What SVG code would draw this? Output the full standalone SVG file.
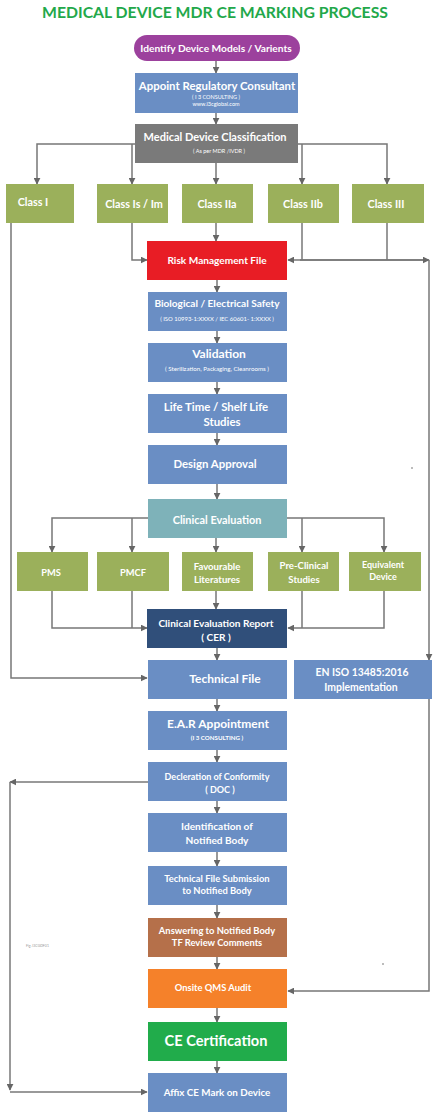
<svg xmlns="http://www.w3.org/2000/svg" width="438" height="1114" viewBox="0 0 438 1114">
<style>
text{font-family:Lato,"Open Sans","Liberation Sans",sans-serif;font-weight:bold;fill:#fff;text-anchor:middle}
.t{font-size:11.4px}
.s{font-size:5.5px;font-weight:normal}
.c{stroke:#777;stroke-width:1.5;fill:none}
.blue{fill:#6a8ec4}
.grn{fill:#9bb05b}
</style>
<defs>
<marker id="ah" viewBox="0 0 10 10" refX="9" refY="5" markerWidth="7" markerHeight="7" markerUnits="userSpaceOnUse" orient="auto">
<path d="M0,0 L10,5 L0,10 z" fill="#666"/>
</marker>
</defs>
<rect width="438" height="1114" fill="#fff"/>
<text x="215" y="18" style="font-size:16px;fill:#22a84a" textLength="346" lengthAdjust="spacingAndGlyphs">MEDICAL DEVICE MDR CE MARKING PROCESS</text>

<g id="connectors" class="c" marker-end="url(#ah)">
<path d="M216,61 V73"/>
<path d="M216,113 V124"/>
<path d="M135,144 H37 V184"/>
<path d="M132,144 V184"/>
<path d="M216,163 V184"/>
<path d="M298,144 H387 V184"/>
<path d="M302,144 V184"/>
<path d="M132,223 V260 H147"/>
<path d="M216,223 V241"/>
<path d="M302,223 V260" marker-end="none"/>
<path d="M387,223 V260" marker-end="none"/>
<path d="M428,260 H288"/>
<path d="M300,260 H429"/>
<path d="M429,260 V660"/>
<path d="M429,699 V991 H288"/>
<path d="M11,223 V678 H147"/>
<path d="M217,280 V292"/>
<path d="M217,331 V343"/>
<path d="M217,382 V394"/>
<path d="M217,433 V445"/>
<path d="M217,484 V499"/>
<path d="M148,518 H52 V552"/>
<path d="M132,518 V552"/>
<path d="M216,538 V552"/>
<path d="M287,518 H384 V552"/>
<path d="M302,518 V552"/>
<path d="M52,591 V628 H147"/>
<path d="M132,591 V628" marker-end="none"/>
<path d="M216,591 V609"/>
<path d="M302,591 V628" marker-end="none"/>
<path d="M384,591 V628 H288"/>
<path d="M217,648 V660"/>
<path d="M217,699 V711"/>
<path d="M217,750 V762"/>
<path d="M217,801 V813"/>
<path d="M217,852 V866"/>
<path d="M217,905 V918"/>
<path d="M217,957 V969"/>
<path d="M217,1008 V1022"/>
<path d="M217,1061 V1073"/>
<path d="M148,782 H10"/>
<path d="M10,782 V1090"/>
<path d="M10,1092 H147"/>
</g>

<g id="identify"><rect x="134" y="35" width="166" height="26" rx="13" fill="#9c419d"/><text x="216" y="52" style="font-size:10.2px">Identify Device Models / Varients</text></g>
<g id="appoint"><rect x="135" y="73" width="163" height="40" class="blue"/><text x="217" y="90" class="t">Appoint Regulatory Consultant</text><text x="216" y="99" class="s">(  I 3 CONSULTING  )</text><text x="216" y="105.5" class="s">www.i3cglobal.com</text></g>
<g id="classification"><rect x="135" y="124" width="163" height="39" fill="#7a7a7a"/><text x="215" y="141" class="t" style="font-size:11px">Medical Device Classification</text><text x="219" y="153" class="s">( As per MDR /IVDR )</text></g>

<g id="class1"><rect x="6" y="184" width="68" height="39" class="grn"/><text x="33" y="206" style="font-size:10.8px">Class I</text></g>
<g id="class1s"><rect x="97" y="184" width="71" height="39" class="grn"/><text x="134" y="208" style="font-size:10.8px">Class Is / Im</text></g>
<g id="class2a"><rect x="182" y="184" width="71" height="39" class="grn"/><text x="217" y="208" style="font-size:10.8px">Class IIa</text></g>
<g id="class2b"><rect x="268" y="184" width="71" height="39" class="grn"/><text x="303" y="208" style="font-size:10.8px">Class IIb</text></g>
<g id="class3"><rect x="352" y="184" width="72" height="39" class="grn"/><text x="386" y="208" style="font-size:10.8px">Class III</text></g>

<g id="risk"><rect x="147" y="241" width="140" height="39" fill="#e81d25"/><text x="217" y="264" style="font-size:10.1px">Risk Management File</text></g>
<g id="bio"><rect x="148" y="292" width="139" height="39" class="blue"/><text x="217" y="307" style="font-size:10.1px">Biological / Electrical Safety</text><text x="217" y="321" class="s" style="font-size:5.9px">( ISO 10993-1:XXXX  /  IEC 60601- 1:XXXX )</text></g>
<g id="validation"><rect x="148" y="343" width="139" height="39" class="blue"/><text x="219" y="358" style="font-size:12px">Validation</text><text x="217" y="371" class="s" style="font-size:6.2px">(  Sterilization, Packaging, Cleanrooms  )</text></g>
<g id="lifetime"><rect x="148" y="394" width="139" height="39" class="blue"/><text x="216" y="411" style="font-size:11.4px">Life Time / Shelf Life</text><text x="222" y="426" style="font-size:11.4px">Studies</text></g>
<g id="design"><rect x="148" y="445" width="139" height="39" class="blue"/><text x="215" y="468" style="font-size:11.4px">Design Approval</text></g>
<g id="clinical"><rect x="148" y="499" width="139" height="39" fill="#7eb2b9"/><text x="217" y="524" style="font-size:10.9px">Clinical Evaluation</text></g>

<g id="pms"><rect x="17" y="552" width="71" height="39" class="grn"/><text x="51" y="576" style="font-size:9.3px">PMS</text></g>
<g id="pmcf"><rect x="97" y="552" width="72" height="39" class="grn"/><text x="133" y="576" style="font-size:9.3px">PMCF</text></g>
<g id="literature"><rect x="182" y="552" width="71" height="39" class="grn"/><text x="217" y="570" style="font-size:9.6px">Favourable</text><text x="217" y="583" style="font-size:9.6px">Literatures</text></g>
<g id="preclinical"><rect x="268" y="552" width="71" height="39" class="grn"/><text x="304" y="569" style="font-size:9.6px">Pre-Clinical</text><text x="304" y="583" style="font-size:9.6px">Studies</text></g>
<g id="equivalent"><rect x="349" y="552" width="72" height="39" class="grn"/><text x="383" y="568" style="font-size:9px">Equivalent</text><text x="383" y="580" style="font-size:9px">Device</text></g>

<g id="cer"><rect x="147" y="609" width="140" height="39" fill="#304f7a"/><text x="216" y="627" style="font-size:10.1px">Clinical Evaluation Report</text><text x="216" y="641" style="font-size:10.1px">( CER )</text></g>
<g id="techfile"><rect x="148" y="660" width="139" height="39" class="blue"/><text x="225" y="683" style="font-size:12px">Technical File</text></g>
<g id="eniso"><rect x="294" y="660" width="138" height="39" class="blue"/><text x="362" y="676" style="font-size:10.4px">EN ISO 13485:2016</text><text x="361" y="691" style="font-size:10.4px">Implementation</text></g>
<g id="ear"><rect x="148" y="711" width="139" height="39" class="blue"/><text x="218" y="728" style="font-size:12px">E.A.R Appointment</text><text x="217" y="740" style="font-size:6.2px">(I 3 CONSULTING )</text></g>
<g id="doc"><rect x="148" y="762" width="139" height="39" class="blue"/><text x="217" y="780" style="font-size:9px">Decleration of Conformity</text><text x="220" y="793" style="font-size:9px">( DOC )</text></g>
<g id="identnb"><rect x="148" y="813" width="139" height="39" class="blue"/><text x="217" y="830" style="font-size:10.1px">Identification of</text><text x="217" y="844" style="font-size:10.1px">Notified Body</text></g>
<g id="submission"><rect x="148" y="866" width="139" height="39" class="blue"/><text x="217" y="882" style="font-size:9.4px">Technical File Submission</text><text x="217" y="894" style="font-size:9.4px">to Notified Body</text></g>
<g id="answering"><rect x="148" y="918" width="139" height="39" fill="#b5704a"/><text x="217" y="934" style="font-size:9.4px">Answering to Notified Body</text><text x="217" y="946" style="font-size:9.4px">TF Review Comments</text></g>
<g id="audit"><rect x="148" y="969" width="139" height="39" fill="#f5812a"/><text x="213" y="991" style="font-size:9.4px">Onsite QMS Audit</text></g>
<g id="cecert"><rect x="148" y="1022" width="139" height="39" fill="#21ac4b"/><text x="216" y="1046" style="font-size:14.6px">CE Certification</text></g>
<g id="affix"><rect x="148" y="1073" width="139" height="39" class="blue"/><text x="217" y="1096" style="font-size:9.8px">Affix CE Mark on Device</text></g>

<text x="26" y="947" style="font-size:3.5px;fill:#999;text-anchor:start;font-weight:normal">Fig. I3CGDF01</text>
<circle cx="412" cy="468" r="0.8" fill="#666"/>
<circle cx="383" cy="964" r="0.8" fill="#666"/>
</svg>
